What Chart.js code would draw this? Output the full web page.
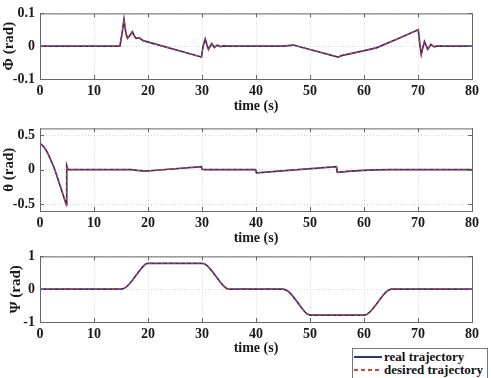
<!DOCTYPE html>
<html>
<head>
<meta charset="utf-8">
<script src="https://cdn.jsdelivr.net/npm/chart.js@4/dist/chart.umd.min.js"></script>
<style>
  html, body { margin: 0; padding: 0; background: #fff; }
  #wrap { position: relative; width: 491px; height: 378px; overflow: hidden; }
  canvas { position: absolute; left: 0; }
  #legend {
    position: absolute; left: 352px; top: 348px; width: 136px; height: 31px;
    border: 1px solid #777; background: #fff; box-sizing: border-box;
    font: bold 13px "Liberation Serif", serif; color: #111;
  }
  .row { position: absolute; left: 0; height: 14px; line-height: 14px; }
  .sample { position: absolute; left: 1px; top: 6px; width: 28px; height: 2px; }
  .label { position: absolute; left: 31px; top: 0; white-space: nowrap; }
</style>
</head>
<body>
<div id="wrap">
  <canvas id="phi" width="491" height="117" style="top:0px"></canvas>
  <canvas id="theta" width="491" height="132" style="top:115px"></canvas>
  <canvas id="psi" width="491" height="135" style="top:243px"></canvas>
  <div id="legend">
    <div class="row" style="top:1px"><span class="sample" style="background:#32327f"></span><span class="label">real trajectory</span></div>
    <div class="row" style="top:14px"><span class="sample" style="background:repeating-linear-gradient(90deg,#e0402a 0 4px,transparent 4px 7px)"></span><span class="label">desired trajectory</span></div>
  </div>
</div>
<script>
// time axis
const timeTicks = [0, 10, 20, 30, 40, 50, 60, 70, 80]

// roll angle (rad)
const phiTime = [0, 14.8, 15.2, 15.55, 15.9, 16.2, 16.6, 17.1, 17.5, 17.8, 18.4, 19.1, 29.9,
  30.2, 30.6, 30.9, 31.2, 31.8, 32.3, 32.8, 33.4, 34, 35, 45, 46.9, 55.2, 56, 58.6, 62.3,
  66.7, 70.05, 70.35, 70.6, 70.9, 71.2, 71.8, 72.4, 73, 73.6, 74.5, 80]
const phiValue = [0, 0, 0.04, 0.082, 0.04, 0.024, 0.032, 0.044, 0.03, 0.024, 0.025, 0.017, -0.033,
  0.0, 0.022, 0.005, -0.01, 0.008, -0.004, 0.003, -0.001, 0.001, 0, 0, 0.0035, -0.033, -0.028, -0.019, -0.005,
  0.026, 0.05, 0.005, -0.025, -0.004, 0.014, -0.009, 0.005, -0.002, 0.001, 0, 0]
const phiTicks = [-0.1, 0, 0.1]

// pitch angle (rad)
const thetaTime = [0, 0.5, 1, 1.5, 2, 2.5, 3, 3.5, 4, 4.5, 4.9, 4.95, 5.2, 17, 18, 19.5, 20.4,
  29.9, 30.0, 30.5, 39.9, 40.1, 54.9, 55.05, 57, 59.9, 62, 64.8, 80]
const thetaValue = [0.38, 0.35, 0.3, 0.23, 0.14, 0.05, -0.06, -0.18, -0.3, -0.42, -0.51, 0.06, 0, 0, -0.01, -0.02, -0.015,
  0.045, 0.005, 0, 0, -0.045, 0.045, -0.038, -0.025, -0.01, -0.003, 0, 0]
const thetaTicks = [-0.5, 0, 0.5]

// yaw angle (rad)
const psiTime = [0, 15, 15.5, 16, 16.5, 17, 17.5, 18, 18.5, 19, 19.5, 20,
  30, 30.5, 31, 31.5, 32, 32.5, 33, 33.5, 34, 34.5, 35,
  45, 45.5, 46, 46.5, 47, 47.5, 48, 48.5, 49, 49.5, 50,
  60, 60.5, 61, 61.5, 62, 62.5, 63, 63.5, 64, 64.5, 65, 80]
const psiValue = [0, 0, 0.02, 0.07, 0.15, 0.25, 0.36, 0.47, 0.58, 0.68, 0.76, 0.79,
  0.79, 0.77, 0.71, 0.62, 0.52, 0.41, 0.3, 0.19, 0.1, 0.03, 0,
  0, -0.02, -0.07, -0.15, -0.25, -0.36, -0.47, -0.58, -0.68, -0.76, -0.79,
  -0.79, -0.77, -0.71, -0.62, -0.52, -0.41, -0.3, -0.19, -0.1, -0.03, 0, 0]
const psiTicks = [-1, 0, 1]

const textColor = "#1a1a1a"
const font = { family: "'Liberation Serif', serif", weight: "bold", size: 14 }

// MATLAB style box with inward ticks
const boxPlugin = {
  id: "box",
  afterDraw(chart) {
    const { ctx, chartArea: a, scales } = chart
    ctx.save()
    ctx.strokeStyle = "#666"
    ctx.lineWidth = 1
    ctx.strokeRect(a.left + 0.5, a.top + 0.5, a.right - a.left, a.bottom - a.top)
    ctx.beginPath()
    scales.x.ticks.forEach(t => {
      const px = Math.round(scales.x.getPixelForValue(t.value)) + 0.5
      ctx.moveTo(px, a.bottom); ctx.lineTo(px, a.bottom - 4)
      ctx.moveTo(px, a.top); ctx.lineTo(px, a.top + 4)
    })
    scales.y.ticks.forEach(t => {
      const py = Math.round(scales.y.getPixelForValue(t.value)) + 0.5
      ctx.moveTo(a.left, py); ctx.lineTo(a.left + 4, py)
      ctx.moveTo(a.right, py); ctx.lineTo(a.right - 4, py)
    })
    ctx.stroke()
    ctx.restore()
  }
}

function toPoints(times, values) {
  return times.map((t, i) => ({ x: t, y: values[i] }))
}

function makePanel(id, times, values, yTicks, yMin, yMax, yTitle, cfg) {
  const pts = toPoints(times, values)
  return new Chart(document.getElementById(id), {
    type: "line",
    data: {
      datasets: [
        // higher order is drawn first, so the dashed desired line sits on top
        { label: "real trajectory", data: pts, borderColor: "#2e2e74", borderWidth: 1.7,
          pointRadius: 0, tension: 0, order: 1 },
        { label: "desired trajectory", data: pts, borderColor: "#e0402a", borderWidth: 1.1,
          borderDash: [3, 3], pointRadius: 0, tension: 0, order: 0 }
      ]
    },
    options: {
      responsive: false,
      animation: false,
      devicePixelRatio: 1,
      layout: { padding: { top: cfg.padTop, right: 19, left: 0, bottom: 0 } },
      plugins: { legend: { display: false }, tooltip: { enabled: false } },
      scales: {
        x: {
          type: "linear", min: 0, max: 80,
          afterBuildTicks: s => { s.ticks = timeTicks.map(v => ({ value: v })) },
          afterFit: s => { s.height = cfg.xHeight },
          ticks: { color: textColor, font, padding: cfg.tickPad, maxRotation: 0, autoSkip: false },
          grid: { color: "#d4d4d4", drawTicks: false },
          border: { display: false, dash: [1, 2] },
          title: { display: true, text: "time (s)", color: textColor, font,
                   padding: { top: 0, bottom: cfg.titlePad } }
        },
        y: {
          min: yMin, max: yMax,
          afterBuildTicks: s => { s.ticks = yTicks.map(v => ({ value: v })) },
          afterFit: s => { s.width = 40 },
          ticks: { color: textColor, font, padding: 5, autoSkip: false,
                   callback: v => String(v) },
          grid: { color: "#d4d4d4", drawTicks: false },
          border: { display: false, dash: [1, 2] },
          title: { display: true, text: yTitle, color: textColor,
                   font: { family: font.family, weight: "bold", size: 15 },
                   padding: { top: cfg.yTitlePad, bottom: 0 } }
        }
      }
    },
    plugins: [boxPlugin]
  })
}

makePanel("phi", phiTime, phiValue, phiTicks, -0.1, 0.1, "Φ (rad)",
  { padTop: 6, xHeight: 38, tickPad: 4, titlePad: 2, yTitlePad: 0 })
makePanel("theta", thetaTime, thetaValue, thetaTicks, -0.6, 0.6, "θ (rad)",
  { padTop: 7, xHeight: 36, tickPad: 4, titlePad: 0, yTitlePad: 0 })
makePanel("psi", psiTime, psiValue, psiTicks, -1, 1, "Ψ (rad)",
  { padTop: 6, xHeight: 56, tickPad: 4, titlePad: 21, yTitlePad: 7 })
</script>
</body>
</html>
